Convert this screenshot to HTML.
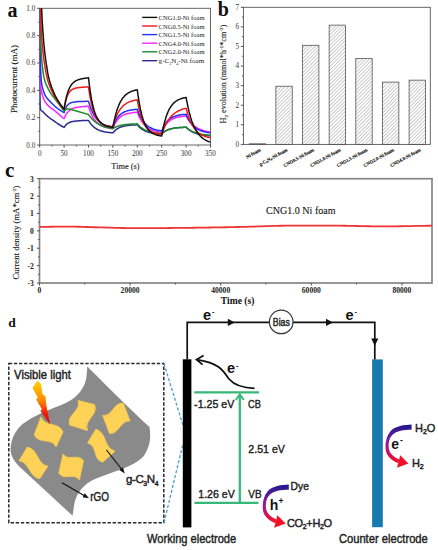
<!DOCTYPE html>
<html><head><meta charset="utf-8"><style>
html,body{margin:0;padding:0;background:#fff;width:438px;height:550px;overflow:hidden}
svg{display:block}
.ser{font-family:"Liberation Serif",serif;fill:#1a1a1a;stroke:#1a1a1a;stroke-width:0.12}
.serb{font-family:"Liberation Serif",serif;font-weight:bold;fill:#111}
.tk{font-family:"Liberation Serif",serif;font-size:7.2px;fill:#333}
.lbl{stroke:#111;stroke-width:0.15}
.lg{stroke-width:0;fill:#222}
.tkb{font-family:"Liberation Serif",serif;font-weight:bold;font-size:7.6px;fill:#222}
.sans{font-family:"Liberation Sans",sans-serif;fill:#222;stroke:#222;stroke-width:0.42}
.sansb{font-family:"Liberation Sans",sans-serif;font-weight:bold;fill:#111}
</style></head><body>
<svg width="438" height="550" viewBox="0 0 438 550">
<rect width="438" height="550" fill="#fff"/>
<g id="chartA">
<rect x="39.7" y="8.3" width="170.8" height="136.7" fill="none" stroke="#555" stroke-width="0.9"/>
<line x1="37.1" y1="145.00" x2="39.7" y2="145.00" stroke="#444" stroke-width="0.9"/>
<text x="35.300000000000004" y="147.50" class="tk" text-anchor="end">0.0</text>
<line x1="38.2" y1="131.33" x2="39.7" y2="131.33" stroke="#444" stroke-width="0.8"/>
<line x1="37.1" y1="117.66" x2="39.7" y2="117.66" stroke="#444" stroke-width="0.9"/>
<text x="35.300000000000004" y="120.16" class="tk" text-anchor="end">0.2</text>
<line x1="38.2" y1="103.99" x2="39.7" y2="103.99" stroke="#444" stroke-width="0.8"/>
<line x1="37.1" y1="90.32" x2="39.7" y2="90.32" stroke="#444" stroke-width="0.9"/>
<text x="35.300000000000004" y="92.82" class="tk" text-anchor="end">0.4</text>
<line x1="38.2" y1="76.65" x2="39.7" y2="76.65" stroke="#444" stroke-width="0.8"/>
<line x1="37.1" y1="62.98" x2="39.7" y2="62.98" stroke="#444" stroke-width="0.9"/>
<text x="35.300000000000004" y="65.48" class="tk" text-anchor="end">0.6</text>
<line x1="38.2" y1="49.31" x2="39.7" y2="49.31" stroke="#444" stroke-width="0.8"/>
<line x1="37.1" y1="35.64" x2="39.7" y2="35.64" stroke="#444" stroke-width="0.9"/>
<text x="35.300000000000004" y="38.14" class="tk" text-anchor="end">0.8</text>
<line x1="38.2" y1="21.97" x2="39.7" y2="21.97" stroke="#444" stroke-width="0.8"/>
<line x1="37.1" y1="8.30" x2="39.7" y2="8.30" stroke="#444" stroke-width="0.9"/>
<text x="35.300000000000004" y="10.80" class="tk" text-anchor="end">1.0</text>
<line x1="39.70" y1="145.0" x2="39.70" y2="147.6" stroke="#444" stroke-width="0.9"/>
<text x="39.70" y="156.2" class="tk" text-anchor="middle">0</text>
<line x1="51.90" y1="145.0" x2="51.90" y2="146.6" stroke="#444" stroke-width="0.8"/>
<line x1="64.10" y1="145.0" x2="64.10" y2="147.6" stroke="#444" stroke-width="0.9"/>
<text x="64.10" y="156.2" class="tk" text-anchor="middle">50</text>
<line x1="76.30" y1="145.0" x2="76.30" y2="146.6" stroke="#444" stroke-width="0.8"/>
<line x1="88.50" y1="145.0" x2="88.50" y2="147.6" stroke="#444" stroke-width="0.9"/>
<text x="88.50" y="156.2" class="tk" text-anchor="middle">100</text>
<line x1="100.70" y1="145.0" x2="100.70" y2="146.6" stroke="#444" stroke-width="0.8"/>
<line x1="112.90" y1="145.0" x2="112.90" y2="147.6" stroke="#444" stroke-width="0.9"/>
<text x="112.90" y="156.2" class="tk" text-anchor="middle">150</text>
<line x1="125.10" y1="145.0" x2="125.10" y2="146.6" stroke="#444" stroke-width="0.8"/>
<line x1="137.30" y1="145.0" x2="137.30" y2="147.6" stroke="#444" stroke-width="0.9"/>
<text x="137.30" y="156.2" class="tk" text-anchor="middle">200</text>
<line x1="149.50" y1="145.0" x2="149.50" y2="146.6" stroke="#444" stroke-width="0.8"/>
<line x1="161.70" y1="145.0" x2="161.70" y2="147.6" stroke="#444" stroke-width="0.9"/>
<text x="161.70" y="156.2" class="tk" text-anchor="middle">250</text>
<line x1="173.90" y1="145.0" x2="173.90" y2="146.6" stroke="#444" stroke-width="0.8"/>
<line x1="186.10" y1="145.0" x2="186.10" y2="147.6" stroke="#444" stroke-width="0.9"/>
<text x="186.10" y="156.2" class="tk" text-anchor="middle">300</text>
<line x1="198.30" y1="145.0" x2="198.30" y2="146.6" stroke="#444" stroke-width="0.8"/>
<line x1="210.50" y1="145.0" x2="210.50" y2="147.6" stroke="#444" stroke-width="0.9"/>
<text x="210.50" y="156.2" class="tk" text-anchor="middle">350</text>
<text x="125.5" y="169.3" class="ser" font-size="8.4" text-anchor="middle">Time (s)</text>
<text transform="translate(17.2,79) rotate(-90)" class="ser" font-size="8.6" text-anchor="middle" textLength="68" lengthAdjust="spacingAndGlyphs">Photocurrent (mA)</text>
<clipPath id="clipA"><rect x="39.7" y="8.3" width="171" height="140"/></clipPath>
<g clip-path="url(#clipA)" fill="none" stroke-width="1.5" stroke-linejoin="round">
<path d="M39.7,5.0L39.7,5.0L39.7,5.0L39.7,9.4L39.8,43.3L39.8,61.2L39.9,76.2L39.9,88.6L40.0,97.9L40.1,103.9L40.2,106.8L40.3,107.8L40.4,108.5L40.5,109.1L40.7,109.5L40.9,109.9L41.0,110.1L41.2,110.4L41.4,110.6L41.6,110.8L41.9,111.0L42.1,111.2L42.4,111.4L42.7,111.7L43.0,111.9L43.3,112.2L43.6,112.5L43.9,112.9L44.3,113.2L44.6,113.6L45.0,113.9L45.4,114.3L45.8,114.7L46.2,115.1L46.7,115.5L47.2,115.9L47.6,116.3L48.1,116.7L48.6,117.1L49.2,117.5L49.7,118.0L50.3,118.4L50.8,118.8L51.4,119.2L52.0,119.6L52.7,120.0L53.3,120.5L54.0,120.9L54.6,121.4L55.3,121.9L56.0,122.4L56.8,123.0L57.5,123.5L58.3,124.0L59.1,124.5L59.8,125.0L60.7,125.5L61.5,126.0L62.3,126.5L63.2,126.9L64.1,127.4L64.1,127.3L64.2,127.2L64.3,127.0L64.4,126.9L64.6,126.7L64.7,126.4L64.9,126.2L65.1,126.0L65.3,125.7L65.5,125.4L65.7,125.2L66.0,124.9L66.2,124.7L66.5,124.4L66.8,124.2L67.0,123.9L67.3,123.7L67.7,123.5L68.0,123.3L68.3,123.1L68.6,122.9L69.0,122.7L69.4,122.6L69.7,122.4L70.1,122.2L70.5,122.1L70.9,122.0L71.3,121.9L71.7,121.7L72.1,121.6L72.6,121.5L73.0,121.5L73.5,121.4L73.9,121.3L74.4,121.2L74.9,121.2L75.4,121.1L75.8,121.0L76.3,121.0L76.9,120.9L77.4,120.9L77.9,120.9L78.4,120.8L79.0,120.8L79.5,120.8L80.0,120.7L80.6,120.7L81.2,120.7L81.7,120.6L82.3,120.6L82.9,120.6L83.5,120.6L84.1,120.5L84.7,120.5L85.3,120.5L85.9,120.5L86.6,120.5L87.2,120.4L87.9,120.4L88.5,120.4L88.5,120.5L88.6,120.6L88.7,120.7L88.8,120.9L89.0,121.2L89.1,121.4L89.3,121.7L89.5,122.0L89.7,122.3L89.9,122.6L90.1,123.0L90.4,123.3L90.6,123.6L90.9,124.0L91.2,124.3L91.4,124.7L91.7,125.0L92.1,125.4L92.4,125.7L92.7,126.0L93.0,126.4L93.4,126.7L93.8,127.0L94.1,127.3L94.5,127.6L94.9,127.9L95.3,128.2L95.7,128.5L96.1,128.7L96.5,129.0L97.0,129.2L97.4,129.5L97.9,129.7L98.3,129.9L98.8,130.1L99.3,130.3L99.8,130.5L100.2,130.7L100.7,130.9L101.3,131.0L101.8,131.2L102.3,131.3L102.8,131.5L103.4,131.6L103.9,131.7L104.4,131.8L105.0,131.9L105.6,132.0L106.1,132.1L106.7,132.2L107.3,132.3L107.9,132.4L108.5,132.5L109.1,132.5L109.7,132.6L110.3,132.6L111.0,132.7L111.6,132.7L112.3,132.8L112.9,132.8L112.9,132.8L113.0,132.7L113.1,132.6L113.2,132.4L113.4,132.3L113.5,132.1L113.7,131.9L113.9,131.7L114.1,131.5L114.3,131.3L114.5,131.0L114.8,130.8L115.0,130.6L115.3,130.3L115.6,130.1L115.8,129.8L116.1,129.6L116.5,129.4L116.8,129.2L117.1,128.9L117.4,128.7L117.8,128.5L118.2,128.3L118.5,128.1L118.9,127.9L119.3,127.7L119.7,127.5L120.1,127.3L120.5,127.2L120.9,127.0L121.4,126.9L121.8,126.7L122.3,126.6L122.7,126.5L123.2,126.3L123.7,126.2L124.2,126.1L124.6,126.0L125.1,125.9L125.7,125.8L126.2,125.7L126.7,125.6L127.2,125.5L127.8,125.5L128.3,125.4L128.8,125.3L129.4,125.3L130.0,125.2L130.5,125.2L131.1,125.1L131.7,125.1L132.3,125.0L132.9,125.0L133.5,124.9L134.1,124.9L134.7,124.9L135.4,124.9L136.0,124.8L136.7,124.8L137.3,124.8L137.3,124.8L137.4,124.9L137.5,125.0L137.6,125.2L137.8,125.3L137.9,125.5L138.1,125.7L138.3,125.9L138.5,126.1L138.7,126.4L138.9,126.6L139.2,126.8L139.4,127.1L139.7,127.3L140.0,127.6L140.2,127.8L140.5,128.1L140.9,128.3L141.2,128.6L141.5,128.8L141.8,129.1L142.2,129.3L142.6,129.5L142.9,129.8L143.3,130.0L143.7,130.2L144.1,130.4L144.5,130.6L144.9,130.8L145.3,131.0L145.8,131.2L146.2,131.4L146.7,131.6L147.1,131.7L147.6,131.9L148.1,132.0L148.6,132.2L149.0,132.3L149.5,132.5L150.1,132.6L150.6,132.7L151.1,132.8L151.6,132.9L152.2,133.0L152.7,133.1L153.2,133.2L153.8,133.3L154.4,133.4L154.9,133.5L155.5,133.5L156.1,133.6L156.7,133.7L157.3,133.7L157.9,133.8L158.5,133.8L159.1,133.9L159.8,133.9L160.4,134.0L161.1,134.0L161.7,134.1L161.7,134.0L161.8,134.0L161.9,133.9L162.0,133.7L162.2,133.6L162.3,133.4L162.5,133.3L162.7,133.1L162.9,132.9L163.1,132.7L163.3,132.5L163.6,132.3L163.8,132.1L164.1,131.9L164.4,131.7L164.6,131.5L164.9,131.3L165.3,131.1L165.6,131.0L165.9,130.8L166.2,130.6L166.6,130.4L167.0,130.2L167.3,130.1L167.7,129.9L168.1,129.7L168.5,129.6L168.9,129.4L169.3,129.3L169.7,129.2L170.2,129.0L170.6,128.9L171.1,128.8L171.5,128.7L172.0,128.6L172.5,128.5L173.0,128.4L173.4,128.3L173.9,128.2L174.5,128.1L175.0,128.0L175.5,128.0L176.0,127.9L176.6,127.8L177.1,127.8L177.6,127.7L178.2,127.7L178.8,127.6L179.3,127.6L179.9,127.5L180.5,127.5L181.1,127.5L181.7,127.4L182.3,127.4L182.9,127.4L183.5,127.3L184.2,127.3L184.8,127.3L185.5,127.3L186.1,127.2L186.1,127.3L186.2,127.3L186.3,127.4L186.4,127.6L186.6,127.7L186.7,127.8L186.9,128.0L187.1,128.2L187.3,128.4L187.5,128.6L187.7,128.8L188.0,129.0L188.2,129.2L188.5,129.4L188.8,129.6L189.0,129.8L189.3,130.1L189.7,130.3L190.0,130.5L190.3,130.7L190.6,130.9L191.0,131.2L191.4,131.4L191.7,131.6L192.1,131.8L192.5,132.0L192.9,132.2L193.3,132.4L193.7,132.6L194.1,132.7L194.6,132.9L195.0,133.1L195.5,133.3L195.9,133.4L196.4,133.6L196.9,133.7L197.4,133.9L197.8,134.0L198.3,134.1L198.9,134.3L199.4,134.4L199.9,134.5L200.4,134.6L201.0,134.7L201.5,134.8L202.0,134.9L202.6,135.0L203.2,135.1L203.7,135.2L204.3,135.3L204.9,135.3L205.5,135.4L206.1,135.5L206.7,135.5L207.3,135.6L207.9,135.6L208.6,135.7L209.2,135.8L209.9,135.8L210.5,135.8" stroke="#2a2a8e"/>
<path d="M39.7,5.0L39.7,5.0L39.7,5.0L39.7,5.0L39.8,5.1L39.8,27.8L39.9,44.1L39.9,55.5L40.0,64.9L40.1,72.1L40.2,77.3L40.3,80.6L40.4,83.1L40.5,85.1L40.7,86.7L40.9,88.1L41.0,89.3L41.2,90.4L41.4,91.4L41.6,92.3L41.9,93.2L42.1,94.1L42.4,95.0L42.7,96.0L43.0,96.9L43.3,97.7L43.6,98.5L43.9,99.3L44.3,100.0L44.6,100.7L45.0,101.4L45.4,102.0L45.8,102.7L46.2,103.3L46.7,103.9L47.2,104.5L47.6,105.0L48.1,105.5L48.6,106.0L49.2,106.5L49.7,106.9L50.3,107.4L50.8,107.8L51.4,108.3L52.0,108.7L52.7,109.2L53.3,109.7L54.0,110.2L54.6,110.7L55.3,111.2L56.0,111.8L56.8,112.4L57.5,113.1L58.3,113.8L59.1,114.5L59.8,115.2L60.7,115.9L61.5,116.6L62.3,117.3L63.2,118.0L64.1,118.6L64.1,118.5L64.2,118.3L64.3,118.1L64.4,117.8L64.6,117.5L64.7,117.1L64.9,116.7L65.1,116.3L65.3,115.9L65.5,115.5L65.7,115.1L66.0,114.6L66.2,114.2L66.5,113.8L66.8,113.4L67.0,113.0L67.3,112.6L67.7,112.2L68.0,111.8L68.3,111.5L68.6,111.1L69.0,110.8L69.4,110.5L69.7,110.2L70.1,109.9L70.5,109.7L70.9,109.4L71.3,109.2L71.7,109.0L72.1,108.8L72.6,108.6L73.0,108.4L73.5,108.2L73.9,108.1L74.4,107.9L74.9,107.8L75.4,107.7L75.8,107.5L76.3,107.4L76.9,107.3L77.4,107.2L77.9,107.2L78.4,107.1L79.0,107.0L79.5,106.9L80.0,106.9L80.6,106.8L81.2,106.7L81.7,106.7L82.3,106.6L82.9,106.6L83.5,106.5L84.1,106.5L84.7,106.4L85.3,106.4L85.9,106.3L86.6,106.3L87.2,106.3L87.9,106.2L88.5,106.2L88.5,106.3L88.6,106.5L88.7,106.8L88.8,107.2L89.0,107.7L89.1,108.2L89.3,108.7L89.5,109.2L89.7,109.8L89.9,110.4L90.1,111.0L90.4,111.7L90.6,112.3L90.9,113.0L91.2,113.6L91.4,114.3L91.7,114.9L92.1,115.5L92.4,116.2L92.7,116.8L93.0,117.4L93.4,118.0L93.8,118.6L94.1,119.1L94.5,119.7L94.9,120.2L95.3,120.7L95.7,121.2L96.1,121.7L96.5,122.1L97.0,122.6L97.4,123.0L97.9,123.4L98.3,123.8L98.8,124.1L99.3,124.5L99.8,124.8L100.2,125.1L100.7,125.4L101.3,125.7L101.8,125.9L102.3,126.2L102.8,126.4L103.4,126.6L103.9,126.8L104.4,127.0L105.0,127.2L105.6,127.3L106.1,127.5L106.7,127.6L107.3,127.8L107.9,127.9L108.5,128.0L109.1,128.1L109.7,128.2L110.3,128.3L111.0,128.4L111.6,128.5L112.3,128.5L112.9,128.6L112.9,128.5L113.0,128.3L113.1,128.1L113.2,127.7L113.4,127.4L113.5,127.0L113.7,126.6L113.9,126.1L114.1,125.7L114.3,125.2L114.5,124.7L114.8,124.2L115.0,123.7L115.3,123.2L115.6,122.7L115.8,122.2L116.1,121.8L116.5,121.3L116.8,120.8L117.1,120.3L117.4,119.9L117.8,119.5L118.2,119.0L118.5,118.6L118.9,118.2L119.3,117.9L119.7,117.5L120.1,117.1L120.5,116.8L120.9,116.5L121.4,116.2L121.8,115.9L122.3,115.6L122.7,115.4L123.2,115.1L123.7,114.9L124.2,114.7L124.6,114.5L125.1,114.3L125.7,114.1L126.2,114.0L126.7,113.8L127.2,113.7L127.8,113.5L128.3,113.4L128.8,113.3L129.4,113.2L130.0,113.1L130.5,113.0L131.1,112.9L131.7,112.8L132.3,112.7L132.9,112.6L133.5,112.5L134.1,112.5L134.7,112.4L135.4,112.4L136.0,112.3L136.7,112.2L137.3,112.2L137.3,112.3L137.4,112.5L137.5,112.7L137.6,113.0L137.8,113.4L137.9,113.8L138.1,114.2L138.3,114.7L138.5,115.1L138.7,115.6L138.9,116.1L139.2,116.7L139.4,117.2L139.7,117.7L140.0,118.3L140.2,118.8L140.5,119.4L140.9,119.9L141.2,120.5L141.5,121.0L141.8,121.5L142.2,122.1L142.6,122.6L142.9,123.1L143.3,123.6L143.7,124.0L144.1,124.5L144.5,124.9L144.9,125.4L145.3,125.8L145.8,126.2L146.2,126.6L146.7,127.0L147.1,127.3L147.6,127.7L148.1,128.0L148.6,128.3L149.0,128.7L149.5,128.9L150.1,129.2L150.6,129.5L151.1,129.7L151.6,130.0L152.2,130.2L152.7,130.4L153.2,130.6L153.8,130.8L154.4,131.0L154.9,131.1L155.5,131.3L156.1,131.5L156.7,131.6L157.3,131.7L157.9,131.8L158.5,132.0L159.1,132.1L159.8,132.2L160.4,132.3L161.1,132.3L161.7,132.4L161.7,132.3L161.8,132.2L161.9,131.9L162.0,131.6L162.2,131.3L162.3,130.9L162.5,130.5L162.7,130.1L162.9,129.7L163.1,129.2L163.3,128.8L163.6,128.3L163.8,127.8L164.1,127.3L164.4,126.9L164.6,126.4L164.9,125.9L165.3,125.4L165.6,125.0L165.9,124.5L166.2,124.1L166.6,123.6L167.0,123.2L167.3,122.8L167.7,122.4L168.1,122.0L168.5,121.7L168.9,121.3L169.3,121.0L169.7,120.7L170.2,120.3L170.6,120.0L171.1,119.8L171.5,119.5L172.0,119.2L172.5,119.0L173.0,118.8L173.4,118.6L173.9,118.3L174.5,118.2L175.0,118.0L175.5,117.8L176.0,117.6L176.6,117.5L177.1,117.3L177.6,117.2L178.2,117.1L178.8,117.0L179.3,116.9L179.9,116.8L180.5,116.7L181.1,116.6L181.7,116.5L182.3,116.4L182.9,116.3L183.5,116.3L184.2,116.2L184.8,116.1L185.5,116.1L186.1,116.0L186.1,116.1L186.2,116.2L186.3,116.4L186.4,116.6L186.6,116.8L186.7,117.1L186.9,117.4L187.1,117.7L187.3,118.0L187.5,118.3L187.7,118.7L188.0,119.0L188.2,119.4L188.5,119.8L188.8,120.2L189.0,120.6L189.3,120.9L189.7,121.3L190.0,121.7L190.3,122.1L190.6,122.5L191.0,122.9L191.4,123.3L191.7,123.7L192.1,124.0L192.5,124.4L192.9,124.8L193.3,125.1L193.7,125.5L194.1,125.8L194.6,126.1L195.0,126.5L195.5,126.8L195.9,127.1L196.4,127.4L196.9,127.7L197.4,127.9L197.8,128.2L198.3,128.5L198.9,128.7L199.4,129.0L199.9,129.2L200.4,129.4L201.0,129.6L201.5,129.8L202.0,130.0L202.6,130.2L203.2,130.4L203.7,130.6L204.3,130.8L204.9,130.9L205.5,131.1L206.1,131.2L206.7,131.3L207.3,131.5L207.9,131.6L208.6,131.7L209.2,131.8L209.9,131.9L210.5,132.0" stroke="#ff22ff"/>
<path d="M39.7,5.0L39.7,5.0L39.7,5.0L39.7,5.0L39.8,5.0L39.8,5.0L39.9,11.9L39.9,25.0L40.0,35.3L40.1,43.4L40.2,50.5L40.3,56.7L40.4,62.1L40.5,66.8L40.7,70.8L40.9,74.2L41.0,77.1L41.2,79.5L41.4,81.5L41.6,83.3L41.9,84.8L42.1,86.2L42.4,87.4L42.7,88.6L43.0,89.6L43.3,90.6L43.6,91.5L43.9,92.4L44.3,93.3L44.6,94.1L45.0,94.9L45.4,95.7L45.8,96.4L46.2,97.0L46.7,97.7L47.2,98.3L47.6,98.9L48.1,99.4L48.6,100.0L49.2,100.6L49.7,101.2L50.3,101.7L50.8,102.3L51.4,102.9L52.0,103.5L52.7,104.2L53.3,104.8L54.0,105.4L54.6,106.0L55.3,106.6L56.0,107.2L56.8,107.8L57.5,108.4L58.3,109.0L59.1,109.6L59.8,110.1L60.7,110.7L61.5,111.2L62.3,111.7L63.2,112.2L64.1,112.7L64.1,112.6L64.2,112.4L64.3,112.0L64.4,111.6L64.6,111.2L64.7,110.7L64.9,110.2L65.1,109.7L65.3,109.1L65.5,108.6L65.7,108.1L66.0,107.6L66.2,107.1L66.5,106.7L66.8,106.2L67.0,105.8L67.3,105.4L67.7,105.0L68.0,104.7L68.3,104.4L68.6,104.1L69.0,103.8L69.4,103.6L69.7,103.4L70.1,103.2L70.5,103.0L70.9,102.8L71.3,102.7L71.7,102.5L72.1,102.4L72.6,102.3L73.0,102.2L73.5,102.1L73.9,102.0L74.4,102.0L74.9,101.9L75.4,101.9L75.8,101.8L76.3,101.8L76.9,101.7L77.4,101.7L77.9,101.6L78.4,101.6L79.0,101.6L79.5,101.6L80.0,101.5L80.6,101.5L81.2,101.5L81.7,101.5L82.3,101.4L82.9,101.4L83.5,101.4L84.1,101.4L84.7,101.4L85.3,101.3L85.9,101.3L86.6,101.3L87.2,101.3L87.9,101.3L88.5,101.3L88.5,101.4L88.6,101.6L88.7,102.0L88.8,102.3L89.0,102.8L89.1,103.3L89.3,103.9L89.5,104.4L89.7,105.0L89.9,105.7L90.1,106.3L90.4,107.0L90.6,107.7L90.9,108.4L91.2,109.1L91.4,109.8L91.7,110.5L92.1,111.2L92.4,111.9L92.7,112.6L93.0,113.3L93.4,113.9L93.8,114.6L94.1,115.2L94.5,115.8L94.9,116.5L95.3,117.1L95.7,117.6L96.1,118.2L96.5,118.7L97.0,119.3L97.4,119.8L97.9,120.2L98.3,120.7L98.8,121.2L99.3,121.6L99.8,122.0L100.2,122.4L100.7,122.8L101.3,123.1L101.8,123.5L102.3,123.8L102.8,124.1L103.4,124.4L103.9,124.6L104.4,124.9L105.0,125.1L105.6,125.4L106.1,125.6L106.7,125.8L107.3,126.0L107.9,126.2L108.5,126.3L109.1,126.5L109.7,126.6L110.3,126.8L111.0,126.9L111.6,127.0L112.3,127.1L112.9,127.2L112.9,127.1L113.0,126.9L113.1,126.6L113.2,126.3L113.4,125.9L113.5,125.5L113.7,125.0L113.9,124.5L114.1,124.0L114.3,123.5L114.5,123.0L114.8,122.4L115.0,121.9L115.3,121.4L115.6,120.8L115.8,120.3L116.1,119.7L116.5,119.2L116.8,118.7L117.1,118.2L117.4,117.7L117.8,117.2L118.2,116.8L118.5,116.3L118.9,115.9L119.3,115.5L119.7,115.1L120.1,114.7L120.5,114.3L120.9,114.0L121.4,113.7L121.8,113.4L122.3,113.1L122.7,112.8L123.2,112.5L123.7,112.3L124.2,112.0L124.6,111.8L125.1,111.6L125.7,111.4L126.2,111.2L126.7,111.1L127.2,110.9L127.8,110.7L128.3,110.6L128.8,110.5L129.4,110.4L130.0,110.2L130.5,110.1L131.1,110.0L131.7,109.9L132.3,109.9L132.9,109.8L133.5,109.7L134.1,109.6L134.7,109.6L135.4,109.5L136.0,109.4L136.7,109.4L137.3,109.3L137.3,109.4L137.4,109.6L137.5,109.9L137.6,110.2L137.8,110.6L137.9,111.0L138.1,111.5L138.3,112.0L138.5,112.5L138.7,113.0L138.9,113.5L139.2,114.1L139.4,114.7L139.7,115.3L140.0,115.8L140.2,116.4L140.5,117.0L140.9,117.6L141.2,118.2L141.5,118.7L141.8,119.3L142.2,119.9L142.6,120.4L142.9,120.9L143.3,121.5L143.7,122.0L144.1,122.5L144.5,122.9L144.9,123.4L145.3,123.9L145.8,124.3L146.2,124.7L146.7,125.1L147.1,125.5L147.6,125.9L148.1,126.2L148.6,126.6L149.0,126.9L149.5,127.2L150.1,127.5L150.6,127.8L151.1,128.0L151.6,128.3L152.2,128.5L152.7,128.8L153.2,129.0L153.8,129.2L154.4,129.4L154.9,129.6L155.5,129.7L156.1,129.9L156.7,130.0L157.3,130.2L157.9,130.3L158.5,130.4L159.1,130.5L159.8,130.6L160.4,130.7L161.1,130.8L161.7,130.9L161.7,130.8L161.8,130.6L161.9,130.4L162.0,130.1L162.2,129.8L162.3,129.4L162.5,129.0L162.7,128.6L162.9,128.1L163.1,127.7L163.3,127.2L163.6,126.7L163.8,126.2L164.1,125.7L164.4,125.3L164.6,124.8L164.9,124.3L165.3,123.8L165.6,123.3L165.9,122.9L166.2,122.4L166.6,122.0L167.0,121.6L167.3,121.1L167.7,120.7L168.1,120.4L168.5,120.0L168.9,119.6L169.3,119.3L169.7,118.9L170.2,118.6L170.6,118.3L171.1,118.0L171.5,117.8L172.0,117.5L172.5,117.3L173.0,117.0L173.4,116.8L173.9,116.6L174.5,116.4L175.0,116.2L175.5,116.0L176.0,115.9L176.6,115.7L177.1,115.6L177.6,115.5L178.2,115.3L178.8,115.2L179.3,115.1L179.9,115.0L180.5,114.9L181.1,114.8L181.7,114.7L182.3,114.6L182.9,114.6L183.5,114.5L184.2,114.4L184.8,114.4L185.5,114.3L186.1,114.2L186.1,114.3L186.2,114.5L186.3,114.7L186.4,115.0L186.6,115.3L186.7,115.7L186.9,116.1L187.1,116.5L187.3,117.0L187.5,117.4L187.7,117.9L188.0,118.4L188.2,118.9L188.5,119.3L188.8,119.8L189.0,120.4L189.3,120.9L189.7,121.4L190.0,121.9L190.3,122.3L190.6,122.8L191.0,123.3L191.4,123.8L191.7,124.2L192.1,124.7L192.5,125.1L192.9,125.5L193.3,126.0L193.7,126.4L194.1,126.8L194.6,127.1L195.0,127.5L195.5,127.8L195.9,128.2L196.4,128.5L196.9,128.8L197.4,129.1L197.8,129.4L198.3,129.6L198.9,129.9L199.4,130.1L199.9,130.4L200.4,130.6L201.0,130.8L201.5,131.0L202.0,131.2L202.6,131.3L203.2,131.5L203.7,131.7L204.3,131.8L204.9,131.9L205.5,132.1L206.1,132.2L206.7,132.3L207.3,132.4L207.9,132.5L208.6,132.6L209.2,132.7L209.9,132.8L210.5,132.8" stroke="#2233ee"/>
<path d="M39.7,5.0L39.7,5.0L39.7,5.0L39.7,5.0L39.8,5.0L39.8,5.0L39.9,5.0L39.9,5.0L40.0,7.9L40.1,16.6L40.2,23.4L40.3,28.9L40.4,33.5L40.5,37.6L40.7,41.4L40.9,45.1L41.0,48.9L41.2,52.4L41.4,55.7L41.6,58.7L41.9,61.5L42.1,64.2L42.4,66.7L42.7,69.2L43.0,71.5L43.3,73.6L43.6,75.5L43.9,77.2L44.3,78.7L44.6,80.1L45.0,81.3L45.4,82.5L45.8,83.6L46.2,84.7L46.7,85.7L47.2,86.7L47.6,87.7L48.1,88.7L48.6,89.6L49.2,90.6L49.7,91.6L50.3,92.5L50.8,93.4L51.4,94.2L52.0,95.1L52.7,95.9L53.3,96.8L54.0,97.6L54.6,98.5L55.3,99.4L56.0,100.3L56.8,101.2L57.5,102.2L58.3,103.3L59.1,104.4L59.8,105.5L60.7,106.6L61.5,107.8L62.3,108.9L63.2,109.9L64.1,111.0L64.1,110.9L64.2,110.8L64.3,110.7L64.4,110.5L64.6,110.4L64.7,110.2L64.9,110.0L65.1,109.9L65.3,109.7L65.5,109.6L65.7,109.4L66.0,109.3L66.2,109.2L66.5,109.2L66.8,109.1L67.0,109.1L67.3,109.0L67.7,109.0L68.0,109.0L68.3,109.0L68.6,109.1L69.0,109.1L69.4,109.2L69.7,109.2L70.1,109.3L70.5,109.4L70.9,109.5L71.3,109.6L71.7,109.7L72.1,109.8L72.6,109.9L73.0,110.0L73.5,110.2L73.9,110.3L74.4,110.4L74.9,110.6L75.4,110.7L75.8,110.8L76.3,111.0L76.9,111.1L77.4,111.3L77.9,111.4L78.4,111.6L79.0,111.7L79.5,111.9L80.0,112.1L80.6,112.2L81.2,112.4L81.7,112.5L82.3,112.7L82.9,112.9L83.5,113.1L84.1,113.2L84.7,113.4L85.3,113.6L85.9,113.8L86.6,114.0L87.2,114.1L87.9,114.3L88.5,114.5L88.5,114.6L88.6,114.7L88.7,114.8L88.8,115.0L89.0,115.2L89.1,115.4L89.3,115.6L89.5,115.9L89.7,116.1L89.9,116.4L90.1,116.7L90.4,117.0L90.6,117.3L90.9,117.6L91.2,118.0L91.4,118.3L91.7,118.6L92.1,118.9L92.4,119.3L92.7,119.6L93.0,119.9L93.4,120.3L93.8,120.6L94.1,120.9L94.5,121.2L94.9,121.6L95.3,121.9L95.7,122.2L96.1,122.5L96.5,122.8L97.0,123.1L97.4,123.4L97.9,123.7L98.3,123.9L98.8,124.2L99.3,124.5L99.8,124.7L100.2,125.0L100.7,125.2L101.3,125.4L101.8,125.7L102.3,125.9L102.8,126.1L103.4,126.3L103.9,126.5L104.4,126.7L105.0,126.8L105.6,127.0L106.1,127.2L106.7,127.3L107.3,127.5L107.9,127.6L108.5,127.8L109.1,127.9L109.7,128.0L110.3,128.2L111.0,128.3L111.6,128.4L112.3,128.5L112.9,128.6L112.9,128.6L113.0,128.5L113.1,128.5L113.2,128.4L113.4,128.3L113.5,128.2L113.7,128.1L113.9,128.0L114.1,127.9L114.3,127.7L114.5,127.6L114.8,127.5L115.0,127.4L115.3,127.2L115.6,127.1L115.8,127.0L116.1,126.8L116.5,126.7L116.8,126.6L117.1,126.5L117.4,126.3L117.8,126.2L118.2,126.1L118.5,126.0L118.9,125.9L119.3,125.8L119.7,125.6L120.1,125.5L120.5,125.4L120.9,125.3L121.4,125.3L121.8,125.2L122.3,125.1L122.7,125.0L123.2,124.9L123.7,124.8L124.2,124.8L124.6,124.7L125.1,124.6L125.7,124.6L126.2,124.5L126.7,124.5L127.2,124.4L127.8,124.4L128.3,124.3L128.8,124.3L129.4,124.2L130.0,124.2L130.5,124.1L131.1,124.1L131.7,124.1L132.3,124.0L132.9,124.0L133.5,124.0L134.1,123.9L134.7,123.9L135.4,123.9L136.0,123.9L136.7,123.8L137.3,123.8L137.3,123.9L137.4,123.9L137.5,124.0L137.6,124.2L137.8,124.3L137.9,124.5L138.1,124.7L138.3,124.9L138.5,125.1L138.7,125.3L138.9,125.6L139.2,125.8L139.4,126.0L139.7,126.3L140.0,126.5L140.2,126.8L140.5,127.0L140.9,127.3L141.2,127.5L141.5,127.8L141.8,128.0L142.2,128.2L142.6,128.5L142.9,128.7L143.3,128.9L143.7,129.2L144.1,129.4L144.5,129.6L144.9,129.8L145.3,130.0L145.8,130.2L146.2,130.4L146.7,130.6L147.1,130.8L147.6,131.0L148.1,131.1L148.6,131.3L149.0,131.4L149.5,131.6L150.1,131.7L150.6,131.9L151.1,132.0L151.6,132.1L152.2,132.3L152.7,132.4L153.2,132.5L153.8,132.6L154.4,132.7L154.9,132.8L155.5,132.9L156.1,132.9L156.7,133.0L157.3,133.1L157.9,133.2L158.5,133.2L159.1,133.3L159.8,133.4L160.4,133.4L161.1,133.5L161.7,133.5L161.7,133.5L161.8,133.4L161.9,133.3L162.0,133.2L162.2,133.1L162.3,133.0L162.5,132.8L162.7,132.7L162.9,132.5L163.1,132.4L163.3,132.2L163.6,132.0L163.8,131.9L164.1,131.7L164.4,131.5L164.6,131.4L164.9,131.2L165.3,131.0L165.6,130.8L165.9,130.7L166.2,130.5L166.6,130.3L167.0,130.2L167.3,130.0L167.7,129.9L168.1,129.7L168.5,129.6L168.9,129.5L169.3,129.3L169.7,129.2L170.2,129.1L170.6,129.0L171.1,128.8L171.5,128.7L172.0,128.6L172.5,128.5L173.0,128.4L173.4,128.4L173.9,128.3L174.5,128.2L175.0,128.1L175.5,128.0L176.0,128.0L176.6,127.9L177.1,127.8L177.6,127.8L178.2,127.7L178.8,127.7L179.3,127.6L179.9,127.6L180.5,127.5L181.1,127.5L181.7,127.5L182.3,127.4L182.9,127.4L183.5,127.3L184.2,127.3L184.8,127.3L185.5,127.3L186.1,127.2L186.1,127.3L186.2,127.3L186.3,127.4L186.4,127.5L186.6,127.6L186.7,127.8L186.9,127.9L187.1,128.1L187.3,128.2L187.5,128.4L187.7,128.6L188.0,128.8L188.2,128.9L188.5,129.1L188.8,129.3L189.0,129.5L189.3,129.7L189.7,129.9L190.0,130.1L190.3,130.3L190.6,130.5L191.0,130.7L191.4,130.9L191.7,131.1L192.1,131.3L192.5,131.5L192.9,131.6L193.3,131.8L193.7,132.0L194.1,132.2L194.6,132.3L195.0,132.5L195.5,132.7L195.9,132.8L196.4,133.0L196.9,133.1L197.4,133.2L197.8,133.4L198.3,133.5L198.9,133.6L199.4,133.8L199.9,133.9L200.4,134.0L201.0,134.1L201.5,134.2L202.0,134.3L202.6,134.4L203.2,134.5L203.7,134.6L204.3,134.7L204.9,134.7L205.5,134.8L206.1,134.9L206.7,135.0L207.3,135.0L207.9,135.1L208.6,135.1L209.2,135.2L209.9,135.2L210.5,135.3" stroke="#1f8a2a"/>
<path d="M39.7,5.0L39.7,5.0L39.7,5.0L39.7,5.0L39.8,5.0L39.8,5.0L39.9,5.0L39.9,5.0L40.0,5.0L40.1,5.0L40.2,5.0L40.3,5.0L40.4,5.0L40.5,6.4L40.7,13.7L40.9,19.7L41.0,24.7L41.2,29.2L41.4,33.1L41.6,36.8L41.9,40.2L42.1,43.6L42.4,46.8L42.7,49.8L43.0,52.5L43.3,55.1L43.6,57.6L43.9,60.0L44.3,62.4L44.6,64.7L45.0,67.1L45.4,69.4L45.8,71.7L46.2,73.9L46.7,76.0L47.2,78.0L47.6,79.8L48.1,81.5L48.6,83.1L49.2,84.6L49.7,86.1L50.3,87.4L50.8,88.8L51.4,90.1L52.0,91.4L52.7,92.6L53.3,93.9L54.0,95.1L54.6,96.3L55.3,97.5L56.0,98.7L56.8,99.8L57.5,100.9L58.3,102.0L59.1,103.1L59.8,104.2L60.7,105.2L61.5,106.2L62.3,107.2L63.2,108.2L64.1,109.2L64.1,109.0L64.2,108.5L64.3,108.0L64.4,107.3L64.6,106.5L64.7,105.7L64.9,104.8L65.1,103.9L65.3,102.9L65.5,102.0L65.7,101.1L66.0,100.2L66.2,99.3L66.5,98.4L66.8,97.5L67.0,96.7L67.3,96.0L67.7,95.2L68.0,94.6L68.3,93.9L68.6,93.3L69.0,92.7L69.4,92.2L69.7,91.7L70.1,91.3L70.5,90.9L70.9,90.5L71.3,90.1L71.7,89.8L72.1,89.5L72.6,89.3L73.0,89.1L73.5,88.8L73.9,88.7L74.4,88.5L74.9,88.3L75.4,88.2L75.8,88.1L76.3,88.0L76.9,87.9L77.4,87.8L77.9,87.7L78.4,87.6L79.0,87.5L79.5,87.5L80.0,87.4L80.6,87.4L81.2,87.3L81.7,87.3L82.3,87.2L82.9,87.2L83.5,87.2L84.1,87.1L84.7,87.1L85.3,87.1L85.9,87.0L86.6,87.0L87.2,87.0L87.9,86.9L88.5,86.9L88.5,87.2L88.6,87.7L88.7,88.4L88.8,89.2L89.0,90.2L89.1,91.2L89.3,92.3L89.5,93.5L89.7,94.8L89.9,96.0L90.1,97.3L90.4,98.6L90.6,99.9L90.9,101.2L91.2,102.5L91.4,103.8L91.7,105.1L92.1,106.3L92.4,107.5L92.7,108.7L93.0,109.8L93.4,110.9L93.8,111.9L94.1,112.9L94.5,113.9L94.9,114.8L95.3,115.7L95.7,116.5L96.1,117.3L96.5,118.0L97.0,118.7L97.4,119.4L97.9,120.0L98.3,120.6L98.8,121.1L99.3,121.6L99.8,122.1L100.2,122.5L100.7,122.9L101.3,123.2L101.8,123.6L102.3,123.9L102.8,124.2L103.4,124.5L103.9,124.7L104.4,124.9L105.0,125.1L105.6,125.3L106.1,125.5L106.7,125.6L107.3,125.8L107.9,125.9L108.5,126.0L109.1,126.1L109.7,126.2L110.3,126.3L111.0,126.4L111.6,126.4L112.3,126.5L112.9,126.5L112.9,126.4L113.0,126.2L113.1,125.8L113.2,125.4L113.4,124.9L113.5,124.4L113.7,123.8L113.9,123.2L114.1,122.5L114.3,121.8L114.5,121.2L114.8,120.4L115.0,119.7L115.3,119.0L115.6,118.3L115.8,117.5L116.1,116.8L116.5,116.1L116.8,115.3L117.1,114.6L117.4,113.9L117.8,113.2L118.2,112.6L118.5,111.9L118.9,111.3L119.3,110.6L119.7,110.0L120.1,109.4L120.5,108.9L120.9,108.3L121.4,107.8L121.8,107.3L122.3,106.8L122.7,106.3L123.2,105.9L123.7,105.4L124.2,105.0L124.6,104.6L125.1,104.3L125.7,103.9L126.2,103.6L126.7,103.2L127.2,102.9L127.8,102.7L128.3,102.4L128.8,102.1L129.4,101.9L130.0,101.7L130.5,101.4L131.1,101.2L131.7,101.0L132.3,100.9L132.9,100.7L133.5,100.5L134.1,100.4L134.7,100.2L135.4,100.1L136.0,100.0L136.7,99.9L137.3,99.8L137.3,100.0L137.4,100.4L137.5,100.9L137.6,101.6L137.8,102.4L137.9,103.2L138.1,104.2L138.3,105.1L138.5,106.1L138.7,107.2L138.9,108.2L139.2,109.3L139.4,110.4L139.7,111.5L140.0,112.6L140.2,113.6L140.5,114.7L140.9,115.7L141.2,116.8L141.5,117.8L141.8,118.7L142.2,119.7L142.6,120.6L142.9,121.5L143.3,122.3L143.7,123.1L144.1,123.9L144.5,124.6L144.9,125.3L145.3,126.0L145.8,126.6L146.2,127.2L146.7,127.8L147.1,128.3L147.6,128.8L148.1,129.3L148.6,129.7L149.0,130.2L149.5,130.5L150.1,130.9L150.6,131.2L151.1,131.5L151.6,131.8L152.2,132.1L152.7,132.3L153.2,132.6L153.8,132.8L154.4,133.0L154.9,133.2L155.5,133.3L156.1,133.5L156.7,133.6L157.3,133.7L157.9,133.8L158.5,133.9L159.1,134.0L159.8,134.1L160.4,134.2L161.1,134.3L161.7,134.3L161.7,134.2L161.8,134.0L161.9,133.7L162.0,133.4L162.2,133.0L162.3,132.5L162.5,132.0L162.7,131.5L162.9,131.0L163.1,130.4L163.3,129.8L163.6,129.2L163.8,128.6L164.1,127.9L164.4,127.3L164.6,126.6L164.9,126.0L165.3,125.3L165.6,124.7L165.9,124.0L166.2,123.4L166.6,122.7L167.0,122.1L167.3,121.5L167.7,120.9L168.1,120.3L168.5,119.7L168.9,119.1L169.3,118.6L169.7,118.0L170.2,117.5L170.6,117.0L171.1,116.5L171.5,116.0L172.0,115.5L172.5,115.0L173.0,114.6L173.4,114.2L173.9,113.8L174.5,113.4L175.0,113.0L175.5,112.6L176.0,112.3L176.6,111.9L177.1,111.6L177.6,111.3L178.2,111.0L178.8,110.7L179.3,110.5L179.9,110.2L180.5,110.0L181.1,109.7L181.7,109.5L182.3,109.3L182.9,109.1L183.5,108.9L184.2,108.7L184.8,108.6L185.5,108.4L186.1,108.2L186.1,108.4L186.2,108.6L186.3,109.0L186.4,109.5L186.6,110.0L186.7,110.6L186.9,111.2L187.1,111.8L187.3,112.5L187.5,113.3L187.7,114.0L188.0,114.8L188.2,115.5L188.5,116.3L188.8,117.1L189.0,117.9L189.3,118.7L189.7,119.5L190.0,120.3L190.3,121.1L190.6,121.9L191.0,122.6L191.4,123.4L191.7,124.1L192.1,124.8L192.5,125.5L192.9,126.2L193.3,126.8L193.7,127.5L194.1,128.1L194.6,128.7L195.0,129.3L195.5,129.8L195.9,130.3L196.4,130.9L196.9,131.3L197.4,131.8L197.8,132.3L198.3,132.7L198.9,133.1L199.4,133.5L199.9,133.8L200.4,134.2L201.0,134.5L201.5,134.8L202.0,135.1L202.6,135.4L203.2,135.6L203.7,135.9L204.3,136.1L204.9,136.3L205.5,136.5L206.1,136.7L206.7,136.9L207.3,137.1L207.9,137.2L208.6,137.4L209.2,137.5L209.9,137.6L210.5,137.8" stroke="#f01818"/>
<path d="M39.7,5.0L39.7,5.0L39.7,5.0L39.7,5.0L39.8,5.0L39.8,5.0L39.9,5.0L39.9,5.0L40.0,5.0L40.1,5.0L40.2,5.0L40.3,5.0L40.4,5.0L40.5,5.0L40.7,5.0L40.9,5.0L41.0,5.0L41.2,5.0L41.4,5.0L41.6,8.1L41.9,14.0L42.1,19.3L42.4,24.2L42.7,28.7L43.0,32.9L43.3,36.9L43.6,40.8L43.9,44.5L44.3,48.0L44.6,51.3L45.0,54.4L45.4,57.5L45.8,60.5L46.2,63.4L46.7,66.4L47.2,69.4L47.6,72.3L48.1,74.9L48.6,77.3L49.2,79.4L49.7,81.4L50.3,83.3L50.8,85.1L51.4,86.7L52.0,88.3L52.7,89.9L53.3,91.4L54.0,92.9L54.6,94.4L55.3,95.8L56.0,97.2L56.8,98.5L57.5,99.8L58.3,101.0L59.1,102.3L59.8,103.5L60.7,104.6L61.5,105.8L62.3,106.9L63.2,108.1L64.1,109.2L64.1,109.0L64.2,108.5L64.3,107.9L64.4,107.1L64.6,106.2L64.7,105.3L64.9,104.3L65.1,103.3L65.3,102.2L65.5,101.1L65.7,100.0L66.0,98.9L66.2,97.8L66.5,96.7L66.8,95.7L67.0,94.6L67.3,93.6L67.7,92.6L68.0,91.7L68.3,90.8L68.6,89.9L69.0,89.1L69.4,88.3L69.7,87.5L70.1,86.8L70.5,86.1L70.9,85.5L71.3,84.9L71.7,84.4L72.1,83.9L72.6,83.4L73.0,82.9L73.5,82.5L73.9,82.1L74.4,81.8L74.9,81.4L75.4,81.1L75.8,80.8L76.3,80.6L76.9,80.3L77.4,80.1L77.9,79.9L78.4,79.7L79.0,79.5L79.5,79.4L80.0,79.2L80.6,79.1L81.2,78.9L81.7,78.8L82.3,78.7L82.9,78.6L83.5,78.5L84.1,78.4L84.7,78.3L85.3,78.2L85.9,78.1L86.6,78.0L87.2,77.9L87.9,77.8L88.5,77.7L88.5,78.1L88.6,78.7L88.7,79.6L88.8,80.6L89.0,81.8L89.1,83.1L89.3,84.5L89.5,86.0L89.7,87.6L89.9,89.1L90.1,90.7L90.4,92.4L90.6,94.0L90.9,95.6L91.2,97.3L91.4,98.9L91.7,100.4L92.1,102.0L92.4,103.5L92.7,104.9L93.0,106.3L93.4,107.7L93.8,109.0L94.1,110.2L94.5,111.4L94.9,112.6L95.3,113.7L95.7,114.7L96.1,115.7L96.5,116.6L97.0,117.5L97.4,118.3L97.9,119.0L98.3,119.8L98.8,120.4L99.3,121.0L99.8,121.6L100.2,122.2L100.7,122.7L101.3,123.1L101.8,123.5L102.3,123.9L102.8,124.3L103.4,124.6L103.9,124.9L104.4,125.2L105.0,125.5L105.6,125.7L106.1,125.9L106.7,126.1L107.3,126.3L107.9,126.4L108.5,126.6L109.1,126.7L109.7,126.8L110.3,126.9L111.0,127.0L111.6,127.1L112.3,127.2L112.9,127.2L112.9,127.0L113.0,126.6L113.1,126.1L113.2,125.5L113.4,124.8L113.5,124.0L113.7,123.1L113.9,122.2L114.1,121.2L114.3,120.3L114.5,119.2L114.8,118.2L115.0,117.1L115.3,116.1L115.6,115.0L115.8,113.9L116.1,112.9L116.5,111.8L116.8,110.8L117.1,109.8L117.4,108.8L117.8,107.8L118.2,106.8L118.5,105.9L118.9,105.0L119.3,104.1L119.7,103.2L120.1,102.4L120.5,101.6L120.9,100.9L121.4,100.1L121.8,99.4L122.3,98.8L122.7,98.1L123.2,97.5L123.7,97.0L124.2,96.4L124.6,95.9L125.1,95.4L125.7,94.9L126.2,94.5L126.7,94.1L127.2,93.7L127.8,93.3L128.3,93.0L128.8,92.6L129.4,92.3L130.0,92.1L130.5,91.8L131.1,91.5L131.7,91.3L132.3,91.1L132.9,90.9L133.5,90.7L134.1,90.5L134.7,90.3L135.4,90.2L136.0,90.0L136.7,89.9L137.3,89.8L137.3,90.1L137.4,90.6L137.5,91.4L137.6,92.3L137.8,93.3L137.9,94.4L138.1,95.7L138.3,96.9L138.5,98.3L138.7,99.7L138.9,101.1L139.2,102.5L139.4,104.0L139.7,105.4L140.0,106.9L140.2,108.3L140.5,109.7L140.9,111.1L141.2,112.5L141.5,113.8L141.8,115.1L142.2,116.4L142.6,117.6L142.9,118.8L143.3,119.9L143.7,121.0L144.1,122.0L144.5,123.0L144.9,123.9L145.3,124.8L145.8,125.7L146.2,126.5L146.7,127.2L147.1,128.0L147.6,128.6L148.1,129.3L148.6,129.8L149.0,130.4L149.5,130.9L150.1,131.4L150.6,131.8L151.1,132.3L151.6,132.6L152.2,133.0L152.7,133.3L153.2,133.6L153.8,133.9L154.4,134.2L154.9,134.4L155.5,134.6L156.1,134.8L156.7,135.0L157.3,135.2L157.9,135.3L158.5,135.5L159.1,135.6L159.8,135.7L160.4,135.8L161.1,135.9L161.7,136.0L161.7,135.8L161.8,135.4L161.9,134.8L162.0,134.1L162.2,133.4L162.3,132.5L162.5,131.6L162.7,130.6L162.9,129.6L163.1,128.6L163.3,127.5L163.6,126.4L163.8,125.3L164.1,124.2L164.4,123.1L164.6,121.9L164.9,120.8L165.3,119.7L165.6,118.6L165.9,117.6L166.2,116.5L166.6,115.5L167.0,114.5L167.3,113.6L167.7,112.6L168.1,111.7L168.5,110.8L168.9,110.0L169.3,109.2L169.7,108.4L170.2,107.7L170.6,107.0L171.1,106.3L171.5,105.7L172.0,105.0L172.5,104.5L173.0,103.9L173.4,103.4L173.9,102.9L174.5,102.4L175.0,102.0L175.5,101.6L176.0,101.2L176.6,100.9L177.1,100.5L177.6,100.2L178.2,99.9L178.8,99.6L179.3,99.4L179.9,99.1L180.5,98.9L181.1,98.7L181.7,98.5L182.3,98.3L182.9,98.1L183.5,98.0L184.2,97.8L184.8,97.7L185.5,97.5L186.1,97.4L186.1,97.6L186.2,98.0L186.3,98.6L186.4,99.2L186.6,100.0L186.7,100.8L186.9,101.7L187.1,102.6L187.3,103.6L187.5,104.7L187.7,105.8L188.0,106.9L188.2,108.0L188.5,109.2L188.8,110.4L189.0,111.5L189.3,112.7L189.7,113.9L190.0,115.0L190.3,116.2L190.6,117.3L191.0,118.5L191.4,119.6L191.7,120.7L192.1,121.8L192.5,122.8L192.9,123.8L193.3,124.8L193.7,125.8L194.1,126.7L194.6,127.6L195.0,128.5L195.5,129.4L195.9,130.2L196.4,131.0L196.9,131.7L197.4,132.5L197.8,133.2L198.3,133.8L198.9,134.5L199.4,135.1L199.9,135.7L200.4,136.2L201.0,136.7L201.5,137.2L202.0,137.7L202.6,138.2L203.2,138.6L203.7,139.0L204.3,139.4L204.9,139.7L205.5,140.1L206.1,140.4L206.7,140.7L207.3,141.0L207.9,141.2L208.6,141.5L209.2,141.7L209.9,141.9L210.5,142.1" stroke="#111111"/>
</g>
<line x1="142.2" y1="17.40" x2="157.3" y2="17.40" stroke="#111111" stroke-width="1.4"/>
<text x="158.6" y="20.00" class="ser lg" font-size="7.1" textLength="46" lengthAdjust="spacingAndGlyphs">CNG1.0-Ni foam</text>
<line x1="142.2" y1="26.00" x2="157.3" y2="26.00" stroke="#f01818" stroke-width="1.4"/>
<text x="158.6" y="28.60" class="ser lg" font-size="7.1" textLength="46" lengthAdjust="spacingAndGlyphs">CNG0.5-Ni foam</text>
<line x1="142.2" y1="34.60" x2="157.3" y2="34.60" stroke="#2233ee" stroke-width="1.4"/>
<text x="158.6" y="37.20" class="ser lg" font-size="7.1" textLength="46" lengthAdjust="spacingAndGlyphs">CNG1.5-Ni foam</text>
<line x1="142.2" y1="43.20" x2="157.3" y2="43.20" stroke="#ff22ff" stroke-width="1.4"/>
<text x="158.6" y="45.80" class="ser lg" font-size="7.1" textLength="46" lengthAdjust="spacingAndGlyphs">CNG4.0-Ni foam</text>
<line x1="142.2" y1="51.80" x2="157.3" y2="51.80" stroke="#1f8a2a" stroke-width="1.4"/>
<text x="158.6" y="54.40" class="ser lg" font-size="7.1" textLength="46" lengthAdjust="spacingAndGlyphs">CNG2.0-Ni foam</text>
<line x1="142.2" y1="60.70" x2="157.3" y2="60.70" stroke="#2a2a8e" stroke-width="1.4"/>
<text x="158.6" y="63.20" class="ser lg" font-size="7.1">g-C<tspan font-size="4" dy="1.3">3</tspan><tspan dy="-1.3">N</tspan><tspan font-size="4" dy="1.3">4</tspan><tspan dy="-1.3">-Ni foam</tspan></text>
<text x="7.5" y="17.2" class="serb" font-size="20">a</text>
</g>
<g id="chartB">
<defs><pattern id="hatch" patternUnits="userSpaceOnUse" width="2.5" height="2.5" patternTransform="rotate(45)"><rect width="2.5" height="2.5" fill="#fff"/><line x1="0" y1="0" x2="0" y2="2.5" stroke="#707070" stroke-width="0.7"/></pattern></defs>
<rect x="249.20" y="143.81" width="16.4" height="0.59" fill="url(#hatch)" stroke="#555" stroke-width="0.8"/>
<rect x="275.85" y="86.23" width="16.4" height="58.17" fill="url(#hatch)" stroke="#555" stroke-width="0.8"/>
<rect x="302.50" y="45.30" width="16.4" height="99.10" fill="url(#hatch)" stroke="#555" stroke-width="0.8"/>
<rect x="329.15" y="25.12" width="16.4" height="119.28" fill="url(#hatch)" stroke="#555" stroke-width="0.8"/>
<rect x="355.80" y="58.42" width="16.4" height="85.98" fill="url(#hatch)" stroke="#555" stroke-width="0.8"/>
<rect x="382.45" y="82.12" width="16.4" height="62.28" fill="url(#hatch)" stroke="#555" stroke-width="0.8"/>
<rect x="409.10" y="80.16" width="16.4" height="64.24" fill="url(#hatch)" stroke="#555" stroke-width="0.8"/>
<rect x="243.4" y="7.3" width="186.9" height="137.1" fill="none" stroke="#555" stroke-width="0.9"/>
<line x1="240.8" y1="144.40" x2="243.4" y2="144.40" stroke="#444" stroke-width="0.9"/>
<text x="239.20000000000002" y="146.80" class="tk" text-anchor="end">0</text>
<line x1="241.9" y1="134.61" x2="243.4" y2="134.61" stroke="#444" stroke-width="0.8"/>
<line x1="240.8" y1="124.81" x2="243.4" y2="124.81" stroke="#444" stroke-width="0.9"/>
<text x="239.20000000000002" y="127.21" class="tk" text-anchor="end">1</text>
<line x1="241.9" y1="115.02" x2="243.4" y2="115.02" stroke="#444" stroke-width="0.8"/>
<line x1="240.8" y1="105.23" x2="243.4" y2="105.23" stroke="#444" stroke-width="0.9"/>
<text x="239.20000000000002" y="107.63" class="tk" text-anchor="end">2</text>
<line x1="241.9" y1="95.44" x2="243.4" y2="95.44" stroke="#444" stroke-width="0.8"/>
<line x1="240.8" y1="85.64" x2="243.4" y2="85.64" stroke="#444" stroke-width="0.9"/>
<text x="239.20000000000002" y="88.04" class="tk" text-anchor="end">3</text>
<line x1="241.9" y1="75.85" x2="243.4" y2="75.85" stroke="#444" stroke-width="0.8"/>
<line x1="240.8" y1="66.06" x2="243.4" y2="66.06" stroke="#444" stroke-width="0.9"/>
<text x="239.20000000000002" y="68.46" class="tk" text-anchor="end">4</text>
<line x1="241.9" y1="56.26" x2="243.4" y2="56.26" stroke="#444" stroke-width="0.8"/>
<line x1="240.8" y1="46.47" x2="243.4" y2="46.47" stroke="#444" stroke-width="0.9"/>
<text x="239.20000000000002" y="48.87" class="tk" text-anchor="end">5</text>
<line x1="241.9" y1="36.68" x2="243.4" y2="36.68" stroke="#444" stroke-width="0.8"/>
<line x1="240.8" y1="26.89" x2="243.4" y2="26.89" stroke="#444" stroke-width="0.9"/>
<text x="239.20000000000002" y="29.29" class="tk" text-anchor="end">6</text>
<line x1="241.9" y1="17.09" x2="243.4" y2="17.09" stroke="#444" stroke-width="0.8"/>
<line x1="240.8" y1="7.30" x2="243.4" y2="7.30" stroke="#444" stroke-width="0.9"/>
<text x="239.20000000000002" y="9.70" class="tk" text-anchor="end">7</text>
<text transform="translate(225.8,74.1) rotate(-90)" class="ser" font-size="8.2" text-anchor="middle">H<tspan font-size="5" dy="1.8">2</tspan><tspan dy="-1.8"> evolution (mmol*h</tspan><tspan font-size="5" dy="-3">-1</tspan><tspan dy="3">*cm</tspan><tspan font-size="5" dy="-3">-2</tspan><tspan dy="3">)</tspan></text>
<text transform="translate(261.00,151.00) rotate(-28.5)" class="serb lbl" font-size="4.7" text-anchor="end">Ni foam</text>
<text transform="translate(287.65,151.00) rotate(-28.5)" class="serb lbl" font-size="4.7" text-anchor="end">g-C<tspan font-size="3" dy="0.8">3</tspan><tspan dy="-0.8">N</tspan><tspan font-size="3" dy="0.8">4</tspan><tspan dy="-0.8">-Ni foam</tspan></text>
<text transform="translate(314.30,151.00) rotate(-28.5)" class="serb lbl" font-size="4.7" text-anchor="end">CNG0.5-Ni foam</text>
<text transform="translate(340.95,151.00) rotate(-28.5)" class="serb lbl" font-size="4.7" text-anchor="end">CNG1.0-Ni foam</text>
<text transform="translate(367.60,151.00) rotate(-28.5)" class="serb lbl" font-size="4.7" text-anchor="end">CNG1.5-Ni foam</text>
<text transform="translate(394.25,151.00) rotate(-28.5)" class="serb lbl" font-size="4.7" text-anchor="end">CNG2.0-Ni foam</text>
<text transform="translate(420.90,151.00) rotate(-28.5)" class="serb lbl" font-size="4.7" text-anchor="end">CNG4.0-Ni foam</text>
<text x="217.8" y="16.4" class="serb" font-size="20">b</text>
</g>
<g id="chartC">
<rect x="39.5" y="178.7" width="392.5" height="104.30000000000001" fill="none" stroke="#858585" stroke-width="1.7"/>
<line x1="36.9" y1="283.00" x2="39.5" y2="283.00" stroke="#444" stroke-width="0.9"/>
<text x="33.9" y="286.00" class="tkb" text-anchor="end">-3</text>
<line x1="38.0" y1="274.31" x2="39.5" y2="274.31" stroke="#444" stroke-width="0.8"/>
<line x1="36.9" y1="265.62" x2="39.5" y2="265.62" stroke="#444" stroke-width="0.9"/>
<text x="33.9" y="268.62" class="tkb" text-anchor="end">-2</text>
<line x1="38.0" y1="256.93" x2="39.5" y2="256.93" stroke="#444" stroke-width="0.8"/>
<line x1="36.9" y1="248.23" x2="39.5" y2="248.23" stroke="#444" stroke-width="0.9"/>
<text x="33.9" y="251.23" class="tkb" text-anchor="end">-1</text>
<line x1="38.0" y1="239.54" x2="39.5" y2="239.54" stroke="#444" stroke-width="0.8"/>
<line x1="36.9" y1="230.85" x2="39.5" y2="230.85" stroke="#444" stroke-width="0.9"/>
<text x="33.9" y="233.85" class="tkb" text-anchor="end">0</text>
<line x1="38.0" y1="222.16" x2="39.5" y2="222.16" stroke="#444" stroke-width="0.8"/>
<line x1="36.9" y1="213.47" x2="39.5" y2="213.47" stroke="#444" stroke-width="0.9"/>
<text x="33.9" y="216.47" class="tkb" text-anchor="end">1</text>
<line x1="38.0" y1="204.77" x2="39.5" y2="204.77" stroke="#444" stroke-width="0.8"/>
<line x1="36.9" y1="196.08" x2="39.5" y2="196.08" stroke="#444" stroke-width="0.9"/>
<text x="33.9" y="199.08" class="tkb" text-anchor="end">2</text>
<line x1="38.0" y1="187.39" x2="39.5" y2="187.39" stroke="#444" stroke-width="0.8"/>
<line x1="36.9" y1="178.70" x2="39.5" y2="178.70" stroke="#444" stroke-width="0.9"/>
<text x="33.9" y="181.70" class="tkb" text-anchor="end">3</text>
<line x1="39.50" y1="283.0" x2="39.50" y2="285.6" stroke="#444" stroke-width="0.9"/>
<text x="39.50" y="292.6" class="tkb" text-anchor="middle">0</text>
<line x1="84.80" y1="283.0" x2="84.80" y2="284.6" stroke="#444" stroke-width="0.8"/>
<line x1="130.10" y1="283.0" x2="130.10" y2="285.6" stroke="#444" stroke-width="0.9"/>
<text x="130.10" y="292.6" class="tkb" text-anchor="middle">20000</text>
<line x1="175.40" y1="283.0" x2="175.40" y2="284.6" stroke="#444" stroke-width="0.8"/>
<line x1="220.70" y1="283.0" x2="220.70" y2="285.6" stroke="#444" stroke-width="0.9"/>
<text x="220.70" y="292.6" class="tkb" text-anchor="middle">40000</text>
<line x1="266.00" y1="283.0" x2="266.00" y2="284.6" stroke="#444" stroke-width="0.8"/>
<line x1="311.30" y1="283.0" x2="311.30" y2="285.6" stroke="#444" stroke-width="0.9"/>
<text x="311.30" y="292.6" class="tkb" text-anchor="middle">60000</text>
<line x1="356.60" y1="283.0" x2="356.60" y2="284.6" stroke="#444" stroke-width="0.8"/>
<line x1="401.90" y1="283.0" x2="401.90" y2="285.6" stroke="#444" stroke-width="0.9"/>
<text x="401.90" y="292.6" class="tkb" text-anchor="middle">80000</text>
<path d="M39.5,226.90 L43.5,226.86 L47.4,226.81 L51.4,226.76 L55.4,226.71 L59.3,226.66 L63.3,226.63 L67.3,226.60 L71.2,226.60 L75.2,226.65 L79.1,226.73 L83.1,226.85 L87.1,226.98 L91.0,227.12 L95.0,227.26 L99.0,227.37 L102.9,227.47 L106.9,227.58 L110.9,227.69 L114.8,227.80 L118.8,227.91 L122.8,228.00 L126.7,228.09 L130.7,228.15 L134.7,228.19 L138.6,228.20 L142.6,228.19 L146.5,228.18 L150.5,228.16 L154.5,228.14 L158.4,228.11 L162.4,228.07 L166.4,228.03 L170.3,227.99 L174.3,227.95 L178.3,227.91 L182.2,227.86 L186.2,227.82 L190.2,227.78 L194.1,227.73 L198.1,227.68 L202.1,227.62 L206.0,227.57 L210.0,227.50 L213.9,227.44 L217.9,227.37 L221.9,227.30 L225.8,227.23 L229.8,227.16 L233.8,227.08 L237.7,227.01 L241.7,226.92 L245.7,226.82 L249.6,226.70 L253.6,226.57 L257.6,226.44 L261.5,226.31 L265.5,226.18 L269.4,226.05 L273.4,225.94 L277.4,225.85 L281.3,225.77 L285.3,225.72 L289.3,225.70 L293.2,225.70 L297.2,225.70 L301.2,225.70 L305.1,225.70 L309.1,225.70 L313.1,225.70 L317.0,225.70 L321.0,225.70 L325.0,225.70 L328.9,225.70 L332.9,225.70 L336.8,225.70 L340.8,225.71 L344.8,225.75 L348.7,225.81 L352.7,225.90 L356.7,225.99 L360.6,226.09 L364.6,226.19 L368.6,226.27 L372.5,226.34 L376.5,226.39 L380.5,226.40 L384.4,226.39 L388.4,226.37 L392.4,226.33 L396.3,226.28 L400.3,226.23 L404.2,226.17 L408.2,226.10 L412.2,226.03 L416.1,225.96 L420.1,225.89 L424.1,225.82 L428.0,225.76 L432.0,225.70" fill="none" stroke="#f03434" stroke-width="1.8"/>
<text x="266" y="214.4" class="ser" font-size="9.3" textLength="69.6" lengthAdjust="spacingAndGlyphs">CNG1.0 Ni foam</text>
<text x="237.6" y="303.6" class="serb" font-size="9.6" text-anchor="middle">Time (s)</text>
<text transform="translate(18.6,232.6) rotate(-90)" class="ser" font-size="8.8" textLength="94" lengthAdjust="spacingAndGlyphs" text-anchor="middle">Current density (mA*cm<tspan font-size="5" dy="-3">-2</tspan><tspan dy="3">)</tspan></text>
<text x="5" y="177.4" class="serb" font-size="21">c</text>
</g>
<g id="diagD">
<text x="8.3" y="327.2" class="serb" font-size="13.5">d</text>
<path d="M87.3,366.4 C100,379 125,404 149.5,427 C151,437 150.5,447 143,457 C133,467 112,472 95,479 C84,484 77,492 74.5,503 C73.5,509 73,513 72.6,515.8 L19,466.2 C14,461 10.5,456 10.6,449 C11,439 15,431 22,424.5 C33,416 48,410 60,405.5 C75,400 83,391 86,380 C86.8,375 87,370 87.3,366.4Z" fill="#8a8a8a"/>
<path d="M41.0,416.9 C44.7,427.3 59.3,421.6 63.0,432.0 C60.7,437.0 58.4,442.0 56.1,447.0 C52.0,437.2 38.3,444.5 34.2,434.7 C36.5,428.8 38.7,422.8 41.0,416.9Z" fill="#fdd257" stroke="#f6c850" stroke-width="0.9" stroke-linejoin="round"/>
<path d="M78.0,400.5 C83.5,401.9 89.0,403.2 94.5,404.6 C99.0,415.1 83.1,420.1 87.6,430.6 C81.7,428.8 75.7,426.9 69.8,425.1 C65.9,414.7 81.9,410.9 78.0,400.5Z" fill="#fdd257" stroke="#f6c850" stroke-width="0.9" stroke-linejoin="round"/>
<path d="M102.7,415.5 C112.6,416.5 113.3,402.2 123.2,403.2 C125.5,409.1 127.7,415.1 130.0,421.0 C120.1,420.0 119.4,434.4 109.5,433.4 C107.2,427.4 105.0,421.5 102.7,415.5Z" fill="#fdd257" stroke="#f6c850" stroke-width="0.9" stroke-linejoin="round"/>
<path d="M95.8,429.2 C107.1,432.3 103.7,448.1 115.0,451.2 C110.9,454.8 106.8,458.5 102.7,462.1 C92.6,459.8 97.7,445.3 87.6,443.0 C90.3,438.4 93.1,433.8 95.8,429.2Z" fill="#fdd257" stroke="#f6c850" stroke-width="0.9" stroke-linejoin="round"/>
<path d="M27.3,447.0 C38.3,449.0 36.9,464.2 47.9,466.2 C45.2,470.3 42.4,474.5 39.7,478.6 C28.9,477.2 29.9,462.2 19.1,460.8 C21.8,456.2 24.6,451.6 27.3,447.0Z" fill="#fdd257" stroke="#f6c850" stroke-width="0.9" stroke-linejoin="round"/>
<path d="M63.0,453.9 C67.9,461.9 78.6,452.8 83.5,460.8 C82.1,467.2 80.8,473.6 79.4,480.0 C74.4,472.0 63.8,481.1 58.8,473.1 C60.2,466.7 61.6,460.3 63.0,453.9Z" fill="#fdd257" stroke="#f6c850" stroke-width="0.9" stroke-linejoin="round"/>
<defs><linearGradient id="bolt" x1="0" y1="0" x2="0" y2="1"><stop offset="0" stop-color="#ffd400"/><stop offset="0.45" stop-color="#ff8a00"/><stop offset="0.75" stop-color="#ee1c10"/><stop offset="1" stop-color="#d80000"/></linearGradient></defs>
<path d="M37.5,380.5 L41,384 L42.5,394 L45.5,396.5 L46.5,406 L50,424.5 L40.5,411 L41.8,409.2 L36.2,399.5 L37.8,397.5 L32.5,388 Z" fill="url(#bolt)"/>
<rect x="8.8" y="363.5" width="155" height="159.3" fill="none" stroke="#2a2a2a" stroke-width="1.5" stroke-dasharray="3.4 1.7"/>
<path d="M164,363.6 L183,425.5 M164,522.8 L183,443.7" stroke="#4aa2cc" stroke-width="1.3" stroke-dasharray="3.2 1.9" fill="none"/>
<text x="14.1" y="379.2" class="sans" font-size="12" textLength="56.7" lengthAdjust="spacingAndGlyphs">Visible light</text>
<path d="M106.5,450 L121.5,469" stroke="#111" stroke-width="1.2"/>
<path d="M124.8,473.4 L119.3,470.1 L122.9,467.3Z" fill="#111"/>
<path d="M62,482.7 L84.5,495.8" stroke="#111" stroke-width="1.2"/>
<path d="M88.9,498.3 L82.6,497.3 L84.9,493.3Z" fill="#111"/>
<text x="126" y="483.2" class="sans" font-size="11.5" letter-spacing="-0.4">g-C<tspan font-size="6.8" dy="2.5">3</tspan><tspan dy="-2.5">N</tspan><tspan font-size="6.8" dy="2.5">4</tspan></text>
<text x="90.2" y="501" class="sans" font-size="12" textLength="18.8" lengthAdjust="spacingAndGlyphs">rGO</text>
<rect x="182.8" y="359.3" width="8.6" height="168.1" fill="#000"/>
<rect x="372.1" y="359.4" width="10.7" height="167.8" fill="#1779ad"/>
<path d="M187.2,359.5 L187.2,322.4 L374.8,322.4 L374.8,359.5" fill="none" stroke="#111" stroke-width="1.7"/>
<path d="M234.8,322.4 L227.8,318.8 L227.8,326 Z" fill="#111"/>
<path d="M333,322.4 L326,318.8 L326,326 Z" fill="#111"/>
<path d="M374.8,345.8 L371.2,338.6 L378.4,338.6 Z" fill="#111"/>
<circle cx="281.2" cy="321.9" r="11.8" fill="#fff" stroke="#333" stroke-width="1.2"/>
<text x="272.8" y="325.6" class="sans" font-size="10" textLength="17" lengthAdjust="spacingAndGlyphs">Bias</text>
<text x="203" y="319.8" class="sansb" font-size="14.5">e</text><text x="212" y="314.2" class="sansb" font-size="7.5">-</text>
<text x="345.6" y="320" class="sansb" font-size="14.5">e</text><text x="354.6" y="314.4" class="sansb" font-size="7.5">-</text>
<path d="M194.3,392.3 L259,392.3 M194.5,502.8 L258.5,502.8" stroke="#36b87a" stroke-width="2.2"/>
<path d="M239.8,502.8 L239.8,395" stroke="#36b87a" stroke-width="2.3"/>
<path d="M235.8,400 L239.8,394.2 L243.8,400" stroke="#36b87a" stroke-width="2" fill="none"/>
<path d="M254.6,388.4 C243,388 235,386 229,379 C224,372 220,363 198,359.8" fill="none" stroke="#111" stroke-width="1.8"/>
<path d="M203.6,355.4 L196.5,359.6 L202.6,364.6" fill="none" stroke="#111" stroke-width="1.8"/>
<text x="227.1" y="373.2" class="sansb" font-size="14.5">e</text><text x="236" y="367.6" class="sansb" font-size="7.5">-</text>
<text x="194.1" y="408.4" class="sans" font-size="11.8" textLength="40.2" lengthAdjust="spacingAndGlyphs">-1.25 eV</text>
<text x="248" y="408.4" class="sans" font-size="11.8" textLength="12.8" lengthAdjust="spacingAndGlyphs">CB</text>
<text x="248.3" y="453.3" class="sans" font-size="11.8" textLength="36.6" lengthAdjust="spacingAndGlyphs">2.51 eV</text>
<text x="198.3" y="497.8" class="sans" font-size="11.8" textLength="36.4" lengthAdjust="spacingAndGlyphs">1.26 eV</text>
<text x="248.3" y="497.8" class="sans" font-size="11.8" textLength="13.3" lengthAdjust="spacingAndGlyphs">VB</text>
<defs><linearGradient id="hg" x1="0" y1="0" x2="0" y2="1"><stop offset="0" stop-color="#1a1a8c"/><stop offset="0.45" stop-color="#8a1aa0"/><stop offset="1" stop-color="#ff1020"/></linearGradient><linearGradient id="eg" x1="0" y1="0" x2="0" y2="1"><stop offset="0" stop-color="#1a1a8c"/><stop offset="0.45" stop-color="#9a1a9a"/><stop offset="1" stop-color="#ff1020"/></linearGradient></defs>
<g><path d="M288.8,484.6 C282,484.8 272,486.2 267.5,491.5 C263,497 262,505 263.2,511.5 C264.5,516.5 269,520.5 275.5,523.2 L276.4,519.6 C271,517 266.8,513.5 266,508.5 C265.3,503 266.5,498 269.5,495 C274,490.8 281,489.8 288.8,489.8 Z" fill="url(#hg)"/><path d="M285.6,523.6 L274.2,527.8 L277.4,515.2 Z" fill="#f5102a"/></g>
<text x="269.8" y="509.6" class="sansb" font-size="14">h</text><text x="278.6" y="503.8" class="sansb" font-size="8.5">+</text>
<text x="290.6" y="489.5" class="sans" font-size="11" textLength="18.3" lengthAdjust="spacingAndGlyphs">Dye</text>
<text x="287" y="527" class="sans" font-size="11" letter-spacing="-0.35">CO<tspan font-size="7" dy="2">2</tspan><tspan dy="-2">+H</tspan><tspan font-size="7" dy="2">2</tspan><tspan dy="-2">O</tspan></text>
<g transform="translate(122.8,-60)"><path d="M288.8,484.6 C282,484.8 272,486.2 267.5,491.5 C263,497 262,505 263.2,511.5 C264.5,516.5 269,520.5 275.5,523.2 L276.4,519.6 C271,517 266.8,513.5 266,508.5 C265.3,503 266.5,498 269.5,495 C274,490.8 281,489.8 288.8,489.8 Z" fill="url(#hg)"/><path d="M285.6,523.6 L274.2,527.8 L277.4,515.2 Z" fill="#f5102a"/></g>
<text x="391.2" y="449" class="sansb" font-size="14">e</text><text x="400" y="443.4" class="sansb" font-size="8.5">-</text>
<text x="415" y="432.4" class="sans" font-size="11">H<tspan font-size="7" dy="2">2</tspan><tspan dy="-2">O</tspan></text>
<text x="411.9" y="467.4" class="sans" font-size="11">H<tspan font-size="7" dy="2">2</tspan></text>
<text x="147" y="543.4" class="sans" font-size="12.5" textLength="89.2" lengthAdjust="spacingAndGlyphs">Working electrode</text>
<text x="338.9" y="542.8" class="sans" font-size="12.5" textLength="88.9" lengthAdjust="spacingAndGlyphs">Counter electrode</text>
</g>
</svg>
</body></html>
